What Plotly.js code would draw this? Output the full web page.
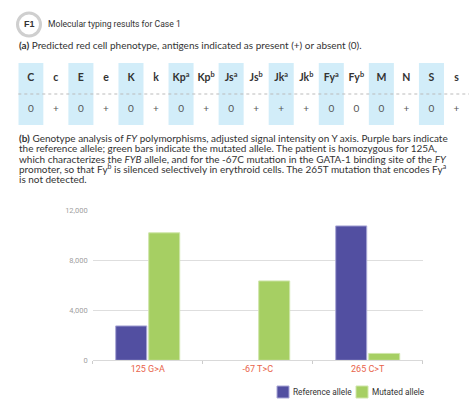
<!DOCTYPE html>
<html>
<head>
<meta charset="utf-8">
<script src="https://cdn.plot.ly/plotly-3.0.1.min.js"></script>
<style>html,body{margin:0;padding:0;background:#fff;}#chart{width:475px;height:406px;}</style>
</head>
<body>
<div id="chart"></div>
<script>
// ---- Data ----
var antigens = ['C','c','E','e','K','k','Kp<sup>a</sup>','Kp<sup>b</sup>','Js<sup>a</sup>','Js<sup>b</sup>','Jk<sup>a</sup>','Jk<sup>b</sup>','Fy<sup>a</sup>','Fy<sup>b</sup>','M','N','S','s'];
var phenotype = ['0','+','0','+','0','+','0','+','0','+','+','+','0','0','0','+','0','+'];
var snps = ['125 G>A', '-67 T>C', '265 C>T'];
var referenceAllele = [2750, 0, 10750];
var mutatedAllele = [10200, 6350, 550];
var seriesNames = ['Reference allele', 'Mutated allele'];
var yTicks = [0, 4000, 8000, 12000];
var figTitle = 'Molecular typing results for Case 1';
var figLabel = 'F1';
var captionA = '<b>(a)</b> Predicted red cell phenotype, antigens indicated as present (+) or absent (0).';
var captionB = [
  '<b>(b)</b> Genotype analysis of <i>FY</i> polymorphisms, adjusted signal intensity on Y axis. Purple bars indicate',
  'the reference allele; green bars indicate the mutated allele. The patient is homozygous for 125A,',
  'which characterizes the <i>FYB</i> allele, and for the -67C mutation in the GATA-1 binding site of the <i>FY</i>',
  'promoter, so that Fy<sup>b</sup> is silenced selectively in erythroid cells. The 265T mutation that encodes Fy<sup>a</sup>',
  'is not detected.'
];

// ---- Styles ----
var W = 475, H = 406;
var PURPLE = '#524fa1', GREEN = '#a6cf63';
var PURPLE_EDGE = '#a9a7d6', GREEN_EDGE = '#cfe6aa';
var CELL_BLUE = '#d2edf9';
var TEXT_DARK = '#333333';
var bodyFont = 'Lato, "Open Sans", sans-serif';
var labelFont = 'Roboto, sans-serif';
var bodySize = 10;
var labelSize = 8.3;
var titleSize = 8.6;
var tickSize = 9;
var yTickSize = 7.5;
function px(x){ return x / W; }
function py(y){ return 1 - y / H; }

var cellColors = antigens.map(function(a, i){ return i % 2 === 0 ? CELL_BLUE : 'rgba(0,0,0,0)'; });
var cellHeights = antigens.map(function(){ return 2; });
var headerRow = antigens.map(function(){ return 1.5; });
var valueRow = antigens.map(function(){ return 0.5; });

var traces = [
  {type:'bar', x: antigens, y: cellHeights, width: 1, xaxis:'x2', yaxis:'y2',
   marker:{color: cellColors, line:{width:0}}, hoverinfo:'skip', showlegend:false},
  {type:'scatter', mode:'text', x: antigens, y: headerRow, text: antigens.map(function(a){return '<b>'+a+'</b>';}),
   xaxis:'x2', yaxis:'y2', textfont:{family: bodyFont, size: 10.5, color: TEXT_DARK}, hoverinfo:'skip', showlegend:false},
  {type:'scatter', mode:'text', x: antigens, y: valueRow, text: phenotype,
   xaxis:'x2', yaxis:'y2', textfont:{family: bodyFont, size: 10, color: '#555'}, hoverinfo:'skip', showlegend:false},
  {type:'bar', name: seriesNames[0], x: snps, y: referenceAllele,
   marker:{color: PURPLE, line:{color: PURPLE_EDGE, width: referenceAllele.map(function(v){return v>0?1:0;})}}, showlegend:false},
  {type:'bar', name: seriesNames[1], x: snps, y: mutatedAllele,
   marker:{color: GREEN, line:{color: GREEN_EDGE, width: mutatedAllele.map(function(v){return v>0?1:0;})}}, showlegend:false}
];

var annotations = [
  {xref:'paper', yref:'paper', x: px(46), y: py(24), xanchor:'left', yanchor:'middle', showarrow:false,
   text: figTitle, font:{family: labelFont, size: titleSize, color:'#333'}},
  {xref:'paper', yref:'paper', x: px(29), y: py(24.5), xanchor:'center', yanchor:'middle', showarrow:false,
   text: '<b>'+figLabel+'</b>', font:{family: 'Liberation Sans, Arial, sans-serif', size: 9, color:'#333'}},
  {xref:'paper', yref:'paper', x: px(17), y: py(45), xanchor:'left', yanchor:'middle', showarrow:false,
   text: captionA, font:{family: bodyFont, size: bodySize, color: TEXT_DARK}}
];
var lineY = [138, 148.3, 158.6, 168.9, 179];
captionB.forEach(function(t, i){
  annotations.push({xref:'paper', yref:'paper', x: px(17), y: py(lineY[i]), xanchor:'left', yanchor:'middle', showarrow:false,
    text: t, font:{family: bodyFont, size: bodySize, color: TEXT_DARK}});
});
var legendBoxX = [277, 356];
seriesNames.forEach(function(n, i){
  annotations.push({xref:'paper', yref:'paper', x: px(legendBoxX[i] + 14), y: py(392), xanchor:'left', yanchor:'middle', showarrow:false,
    text: n, font:{family: labelFont, size: labelSize, color:'#333'}});
});

var shapes = [
  {type:'circle', xref:'paper', yref:'paper', x0: px(17.5), x1: px(40.5), y0: py(36), y1: py(13),
   line:{color:'#cfcfcf', width:3}, fillcolor:'#ffffff', layer:'below'},
  {type:'line', xref:'x2 domain', yref:'y2', x0: 0, x1: 1, y0: 1, y1: 1,
   line:{color:'#bbbbbb', width:1, dash:'dot'}}
];
var legendColors = [PURPLE, GREEN];
var legendEdges = [PURPLE_EDGE, GREEN_EDGE];
legendBoxX.forEach(function(x, i){
  shapes.push({type:'rect', xref:'paper', yref:'paper', x0: px(x), x1: px(x+12), y0: py(398), y1: py(386),
    fillcolor: legendColors[i], line:{color: legendEdges[i], width:1}});
});

var layout = {
  width: W, height: H,
  margin:{l:0, r:0, t:0, b:0},
  paper_bgcolor:'#fff', plot_bgcolor:'rgba(0,0,0,0)',
  barmode:'group', bargap: 0.40, bargroupgap: 0.06,
  showlegend:false,
  xaxis:{domain:[px(92.7), px(422.7)], anchor:'y', type:'category',
    showgrid:false, zeroline:false, showline:true, linecolor:'#d9d9d9', linewidth:1,
    ticks:'outside', tickson:'boundaries', ticklen:3, tickcolor:'#cccccc',
    tickfont:{family: labelFont, size: tickSize, color:'#e8634b'}, automargin:false},
  yaxis:{domain:[py(360.3), py(210.3)], anchor:'x', range:[0, 12000],
    tickvals: yTicks, tickformat:',', showgrid:true, gridcolor:'#dedede', gridwidth:1,
    zeroline:false, showline:false, ticks:'', ticklabelstandoff: 4,
    tickfont:{family:'Roboto, sans-serif', size: yTickSize, color:'#a0a0a0'}, automargin:false},
  xaxis2:{domain:[px(18.3), px(469)], anchor:'y2', type:'category', range:[-0.5, 17.5],
    visible:false, fixedrange:true},
  yaxis2:{domain:[py(125), py(63)], anchor:'x2', range:[0, 2], visible:false, fixedrange:true},
  annotations: annotations,
  shapes: shapes
};

var gd = document.getElementById('chart');
function annWidth(i){
  var t = gd.querySelector('g.annotation[data-index="' + i + '"] text.annotation-text');
  return t ? t.getBBox().width : 0;
}
function fit(size, w, target){
  if (!w) return size;
  var s = target / w; s = Math.max(0.7, Math.min(1.4, s));
  return Math.round(size * s * 100) / 100;
}
Plotly.newPlot(gd, traces, layout, {displayModeBar:false, staticPlot:true}).then(function(){
  var upd = {};
  var nb = fit(bodySize, annWidth(3), 429);
  for (var i = 2; i <= 7; i++) upd['annotations[' + i + '].font.size'] = nb;
  return Plotly.relayout(gd, upd);
});
</script>
</body>
</html>
